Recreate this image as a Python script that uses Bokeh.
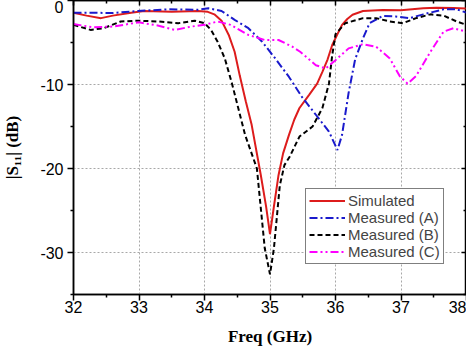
from bokeh.plotting import figure
from bokeh.models import (LinearAxis, Legend, LegendItem, FixedTicker, Range1d,
                          PrintfTickFormatter, CustomJSTickFormatter)
from bokeh.embed import file_html
from bokeh.resources import INLINE

# ---- data ----
sim_x = [32.0, 32.2, 32.42, 32.6, 32.88, 33.08, 33.5, 33.9, 34.05, 34.15, 34.26, 34.37, 34.46, 34.54, 34.63,
         34.72, 34.86, 34.94, 35.0, 35.06, 35.13, 35.2, 35.29, 35.37, 35.45, 35.6, 35.72, 35.8, 35.88, 35.95,
         36.03, 36.1, 36.18, 36.26, 36.42, 36.72, 37.0, 37.34, 37.54, 37.8, 38.0]
sim_y = [-1.45, -1.8, -2.1, -1.8, -1.45, -1.25, -1.33, -1.25, -1.35, -1.65, -2.4, -4.1, -6.1, -9.0, -12.0,
         -14.8, -20.8, -24.5, -27.8, -24.5, -20.8, -18.2, -16.0, -14.2, -12.8, -11.2, -9.9, -8.5, -7.0, -5.3,
         -4.0, -2.9, -2.2, -1.7, -1.25, -1.13, -1.15, -0.93, -0.85, -0.9, -0.95]

a_x = [32.0, 32.3, 32.6, 32.98, 33.45, 33.9, 34.06, 34.26, 34.46, 34.67, 34.88, 35.08, 35.29, 35.49, 35.7,
       35.9, 36.03, 36.1, 36.2, 36.3, 36.42, 36.52, 36.72, 36.92, 37.13, 37.34, 37.65, 37.85, 38.0]
a_y = [-1.45, -1.45, -1.5, -1.25, -1.05, -1.1, -0.93, -1.25, -2.3, -3.3, -4.9, -6.9, -9.1, -11.5, -13.6,
       -15.6, -17.8, -16.0, -11.0, -7.0, -4.5, -2.7, -1.85, -1.9, -2.1, -1.65, -1.05, -1.05, -1.45]

b_x = [32.0, 32.26, 32.46, 32.72, 32.98, 33.29, 33.6, 33.85, 34.0, 34.1, 34.2, 34.31, 34.42, 34.62, 34.8,
       34.92, 35.0, 35.06, 35.15, 35.22, 35.3, 35.45, 35.65, 35.8, 35.9, 35.95, 36.0, 36.15, 36.42, 36.62,
       36.83, 37.03, 37.23, 37.45, 37.65, 37.85, 38.0]
b_y = [-2.9, -3.5, -3.3, -2.5, -2.4, -2.5, -2.7, -2.4, -2.7, -3.5, -4.9, -6.9, -9.9, -16.0, -20.0,
       -29.5, -32.6, -29.5, -22.0, -19.6, -18.6, -16.2, -15.0, -12.8, -9.9, -6.5, -4.0, -2.7, -2.1, -2.1,
       -2.5, -2.7, -2.1, -1.65, -1.8, -2.5, -2.9]

c_x = [32.0, 32.3, 32.6, 33.0, 33.3, 33.55, 33.8, 34.0, 34.2, 34.4, 34.67, 34.92, 35.13, 35.34, 35.46,
       35.7, 35.85, 36.0, 36.2, 36.42, 36.62, 36.83, 36.98, 37.1, 37.23, 37.45, 37.65, 37.8, 37.95, 38.0]
c_y = [-2.8, -3.2, -3.1, -2.6, -3.0, -3.5, -3.1, -2.9, -2.5, -2.9, -4.1, -4.7, -4.7, -5.5, -6.1,
       -7.7, -8.1, -7.1, -5.7, -5.2, -5.5, -6.9, -9.0, -9.9, -9.0, -6.1, -3.7, -3.3, -3.6, -3.7]

x_ticks = [32, 33, 34, 35, 36, 37, 38]
x_minor = [32.5, 33.5, 34.5, 35.5, 36.5, 37.5]
y_ticks = [0, -10, -20, -30]
y_minor = [-5, -15, -25, -35]
labels = ["Simulated", "Measured (A)", "Measured (B)", "Measured (C)"]

# ---- figure ----
p = figure(width=466, height=348, output_backend="svg", toolbar_location=None,
           x_range=Range1d(32, 38), y_range=Range1d(-35, 0),
           min_border_left=0, min_border_right=0, min_border_top=0, min_border_bottom=0)
p.outline_line_color = "black"
p.outline_line_width = 1.5

sans = "Liberation Sans"
serif = "Liberation Serif"

for ax in (p.xaxis[0], p.yaxis[0]):
    ax.axis_line_width = 1.5
    ax.major_tick_line_width = 1.5
    ax.minor_tick_line_width = 1.5
    ax.major_tick_out = 6
    ax.major_tick_in = 0
    ax.minor_tick_out = 3
    ax.minor_tick_in = 0
    ax.major_label_text_font = sans
    ax.major_label_text_font_size = "16px"
    ax.major_label_text_color = "black"
    ax.axis_label_text_font = serif
    ax.axis_label_text_font_style = "bold"
    ax.axis_label_text_font_size = "17px"
    ax.axis_label_text_color = "black"
    ax.formatter = PrintfTickFormatter(format="%d")

p.xaxis[0].ticker = FixedTicker(ticks=x_ticks, minor_ticks=x_minor)
p.yaxis[0].ticker = FixedTicker(ticks=y_ticks, minor_ticks=y_minor)
p.xaxis[0].axis_label = "Freq (GHz)"
p.yaxis[0].axis_label = "|S\u2081\u2081| (dB)"
p.xaxis[0].major_label_standoff = 0
p.yaxis[0].major_label_standoff = 4
p.xaxis[0].axis_label_standoff = 11
p.yaxis[0].axis_label_standoff = 15

for loc in ("above", "right"):
    ax = LinearAxis(axis_line_width=1.5, major_tick_line_width=1.5, minor_tick_line_width=1.5,
                    major_tick_in=5, major_tick_out=0, minor_tick_in=3, minor_tick_out=0,
                    major_label_standoff=0, axis_label_standoff=0, major_label_text_font_size="0px",
                    formatter=CustomJSTickFormatter(code="return ''"))
    if loc == "above":
        ax.ticker = FixedTicker(ticks=x_ticks, minor_ticks=x_minor)
    else:
        ax.ticker = FixedTicker(ticks=y_ticks, minor_ticks=y_minor)
    p.add_layout(ax, loc)

p.xgrid.ticker = FixedTicker(ticks=x_ticks)
p.ygrid.ticker = FixedTicker(ticks=y_ticks)
p.grid.grid_line_color = "#a8a8a8"
p.grid.grid_line_dash = "2 2"
p.grid.grid_line_width = 1

r1 = p.line(sim_x, sim_y, line_color="#dd1c1c", line_width=2)
r2 = p.line(a_x, a_y, line_color="#1a1acc", line_width=2, line_dash="8 3 2 3")
r3 = p.line(b_x, b_y, line_color="black", line_width=2, line_dash="5 3")
r4 = p.line(c_x, c_y, line_color="#ff00ff", line_width=2, line_dash="8 3 2 3 2 3")

legend = Legend(items=[LegendItem(label=l, renderers=[r]) for l, r in zip(labels, [r1, r2, r3, r4])],
                location=(232, 30), margin=0, padding=3, spacing=0,
                glyph_width=36, glyph_height=17, label_height=17, label_standoff=3,
                label_text_font=sans, label_text_font_size="15px",
                border_line_color="black", border_line_width=1,
                background_fill_color="white", background_fill_alpha=1)
p.add_layout(legend, "center")

open("out.html", "w").write(file_html(p, INLINE))
